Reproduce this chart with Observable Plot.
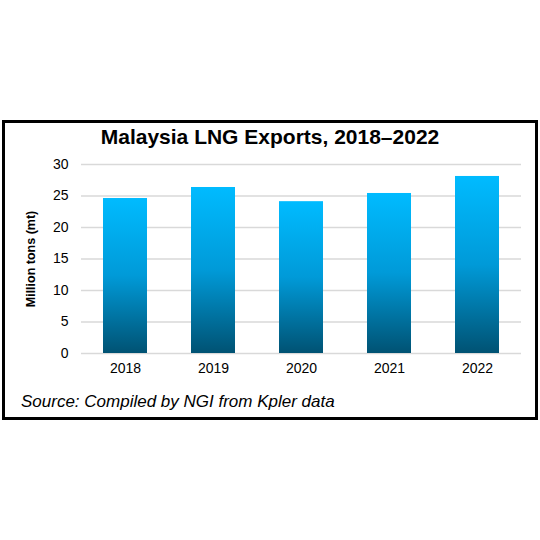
<!DOCTYPE html>
<html>
<head>
<meta charset="utf-8">
<script src="https://cdn.jsdelivr.net/npm/d3@7"></script>
<script src="https://cdn.jsdelivr.net/npm/@observablehq/plot@0.6"></script>
<style>
  html, body { margin: 0; padding: 0; background: #fff; }
  body { width: 540px; height: 540px; position: relative; overflow: hidden; font-family: "Liberation Sans", Arial, sans-serif; }
  #frame { position: absolute; left: 2px; top: 120px; width: 530px; height: 294px; border: 3px solid #000; }
  #title { position: absolute; left: 0; width: 540px; top: 125px; text-align: center; font-weight: bold; font-size: 21px; color: #000; }
  #source { position: absolute; left: 21px; top: 392px; font-style: italic; font-size: 17px; color: #000; }
  #chart { position: absolute; left: 0; top: 0; }
</style>
</head>
<body>
<div id="frame"></div>
<div id="chart"></div>
<div id="title">Malaysia LNG Exports, 2018–2022</div>
<div id="source">Source: Compiled by NGI from Kpler data</div>
<script>
const years = ["2018", "2019", "2020", "2021", "2022"];
const exportsMt = [24.6, 26.35, 24.1, 25.4, 28.1];
const yTicks = [0, 5, 10, 15, 20, 25, 30];
const yLabel = "Million tons (mt)";

const data = years.map((y, i) => ({year: y, value: exportsMt[i]}));

const plot = Plot.plot({
  width: 540,
  height: 540,
  marginTop: 164,
  marginBottom: 187,
  marginLeft: 81,
  marginRight: 19,
  style: {fontFamily: '"Liberation Sans", Arial, sans-serif', fontSize: "14px", color: "#000", background: "transparent"},
  x: {domain: years, paddingInner: 0.5, paddingOuter: 0.25, label: null},
  y: {domain: [0, 30], ticks: yTicks, label: null},
  marks: [
    Plot.gridY(yTicks, {stroke: "#d9d9d9", strokeOpacity: 1, strokeWidth: 1.5}),
    Plot.barY(data, {x: "year", y: "value", fill: "url(#barGrad)"}),
    Plot.axisY(yTicks, {tickSize: 0, tickPadding: 13, fontSize: 14, label: null}),
    Plot.axisX({tickSize: 0, tickPadding: 10, fontSize: 14, label: null}),
    Plot.text([yLabel], {frameAnchor: "left", dx: -51, rotate: -90, textAnchor: "middle", fontWeight: "bold", fontSize: 12.5, text: d => d})
  ]
});

const svg = d3.select(plot);
const defs = svg.insert("defs", ":first-child");
const g = defs.append("linearGradient").attr("id", "barGrad").attr("x1", 0).attr("y1", 0).attr("x2", 0).attr("y2", 1);
g.append("stop").attr("offset", "0%").attr("stop-color", "#00BBFF");
g.append("stop").attr("offset", "50%").attr("stop-color", "#009AD8");
g.append("stop").attr("offset", "100%").attr("stop-color", "#005273");

document.getElementById("chart").appendChild(plot);
</script>
</body>
</html>
